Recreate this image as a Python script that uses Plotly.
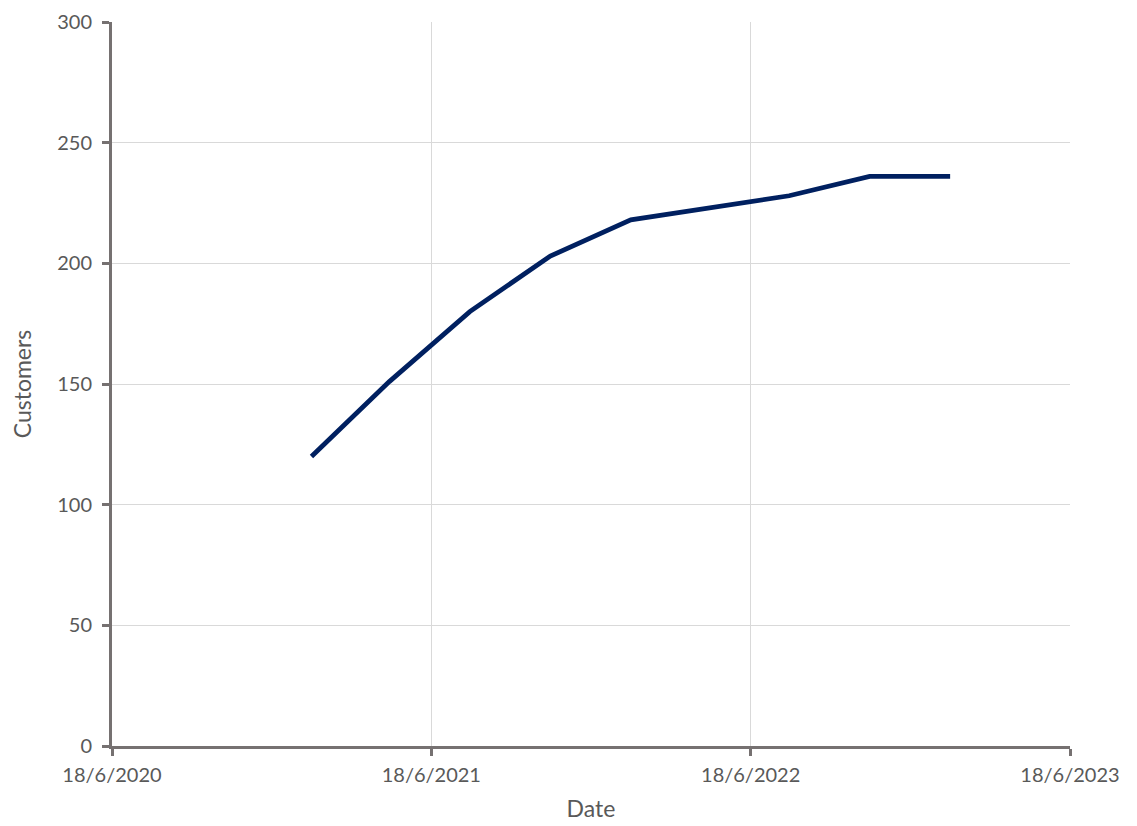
import plotly.graph_objects as go

dates = ["2021-02-01", "2021-05-01", "2021-08-01", "2021-11-01", "2022-02-01",
         "2022-08-01", "2022-11-01", "2023-02-01"]
customers = [120, 151, 180, 203, 218, 228, 236, 236]

x_tick_vals = ["2020-06-18", "2021-06-18", "2022-06-18", "2023-06-18"]
x_tick_text = ["18/6/2020", "18/6/2021", "18/6/2022", "18/6/2023"]

fig = go.Figure()
fig.add_trace(go.Scatter(x=dates, y=customers, mode="lines",
                         line=dict(color="#002060", width=4.8)))

font_family = "Lato, Open Sans, sans-serif"
fig.update_layout(
    width=1137, height=826,
    margin=dict(l=104, r=75, t=14, b=88, autoexpand=False),
    paper_bgcolor="white", plot_bgcolor="white",
    showlegend=False,
    font=dict(family=font_family, color="#595959", size=20),
    xaxis=dict(
        type="date",
        range=["2020-06-18", "2023-06-18"],
        tickvals=x_tick_vals, ticktext=x_tick_text,
        showgrid=True, gridcolor="#d9d9d9", gridwidth=1,
        showline=True, linecolor="#767171", linewidth=3,
        ticks="outside", ticklen=7, tickwidth=3, tickcolor="#767171",
        tickfont=dict(size=20, color="#595959"), ticklabelstandoff=2,
        title=dict(text="Date", font=dict(size=23, color="#595959"), standoff=16),
        zeroline=False, automargin=False,
    ),
    yaxis=dict(
        range=[0, 300], dtick=50, tick0=0,
        showgrid=True, gridcolor="#d9d9d9", gridwidth=1,
        showline=True, linecolor="#767171", linewidth=3,
        ticks="outside", ticklen=7, tickwidth=3, tickcolor="#767171",
        tickfont=dict(size=20, color="#595959"), ticklabelstandoff=6,
        title=dict(text="Customers", font=dict(size=23, color="#595959"), standoff=30),
        zeroline=False, automargin=False,
    ),
)

fig.write_html("out.html")
